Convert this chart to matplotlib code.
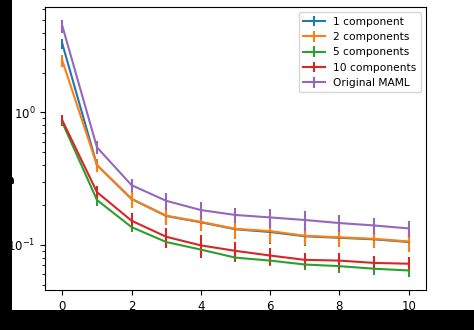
import numpy as np
import matplotlib
matplotlib.use("Agg")
import matplotlib.pyplot as plt
from matplotlib.patches import Rectangle

# steps and per-method loss (mean, std)
steps = list(range(11))

one_comp = [3.3, 0.40, 0.222, 0.165, 0.148, 0.131, 0.125, 0.116, 0.113, 0.110, 0.105]
one_comp_err = [0.30, 0.045, 0.030, 0.024, 0.021, 0.020, 0.023, 0.018, 0.017, 0.016, 0.017]

two_comp = [2.46, 0.40, 0.222, 0.166, 0.149, 0.132, 0.127, 0.117, 0.114, 0.111, 0.106]
two_comp_err = [0.27, 0.045, 0.031, 0.025, 0.022, 0.021, 0.024, 0.018, 0.017, 0.017, 0.018]

five_comp = [0.84, 0.218, 0.136, 0.105, 0.092, 0.080, 0.076, 0.071, 0.069, 0.066, 0.064]
five_comp_err = [0.04, 0.020, 0.012, 0.008, 0.007, 0.006, 0.007, 0.006, 0.008, 0.007, 0.007]

ten_comp = [0.87, 0.25, 0.152, 0.115, 0.099, 0.090, 0.083, 0.077, 0.076, 0.073, 0.072]
ten_comp_err = [0.08, 0.028, 0.021, 0.020, 0.019, 0.015, 0.012, 0.009, 0.010, 0.009, 0.009]

maml = [4.5, 0.545, 0.282, 0.215, 0.183, 0.168, 0.161, 0.154, 0.146, 0.140, 0.133]
maml_err = [0.50, 0.060, 0.031, 0.032, 0.026, 0.022, 0.027, 0.026, 0.022, 0.020, 0.019]

labels = ["1 component", "2 components", "5 components", "10 components", "Original MAML"]

W, H = 474, 330
fig = plt.figure(figsize=(W / 100, H / 100), dpi=100)
fig.patch.set_facecolor("black")
# white panel behind the plot (the reference has a black border on left and bottom)
fig.patches.append(Rectangle((12 / W, 1 - 310 / H), 1, 1, transform=fig.transFigure,
                             facecolor="white", edgecolor="none", zorder=-10))

ax = fig.add_axes([45 / W, 1 - 290 / H, (426 - 45) / W, (290 - 7) / H])

series = [(one_comp, one_comp_err), (two_comp, two_comp_err), (five_comp, five_comp_err),
          (ten_comp, ten_comp_err), (maml, maml_err)]
for (vals, err), lab in zip(series, labels):
    ax.errorbar(steps, vals, yerr=err, label=lab)

ax.set_yscale("log")
ax.tick_params(labelsize=8.5)
ax.legend(fontsize=7.7)

# y label, black on the black border like in the reference
fig.text(0, 1 - 148 / H, "Avg. test loss", rotation=90, va="center", ha="left",
         fontsize=11, fontweight="bold", color="black")

fig.savefig("out.png", dpi=100, facecolor=fig.get_facecolor())
